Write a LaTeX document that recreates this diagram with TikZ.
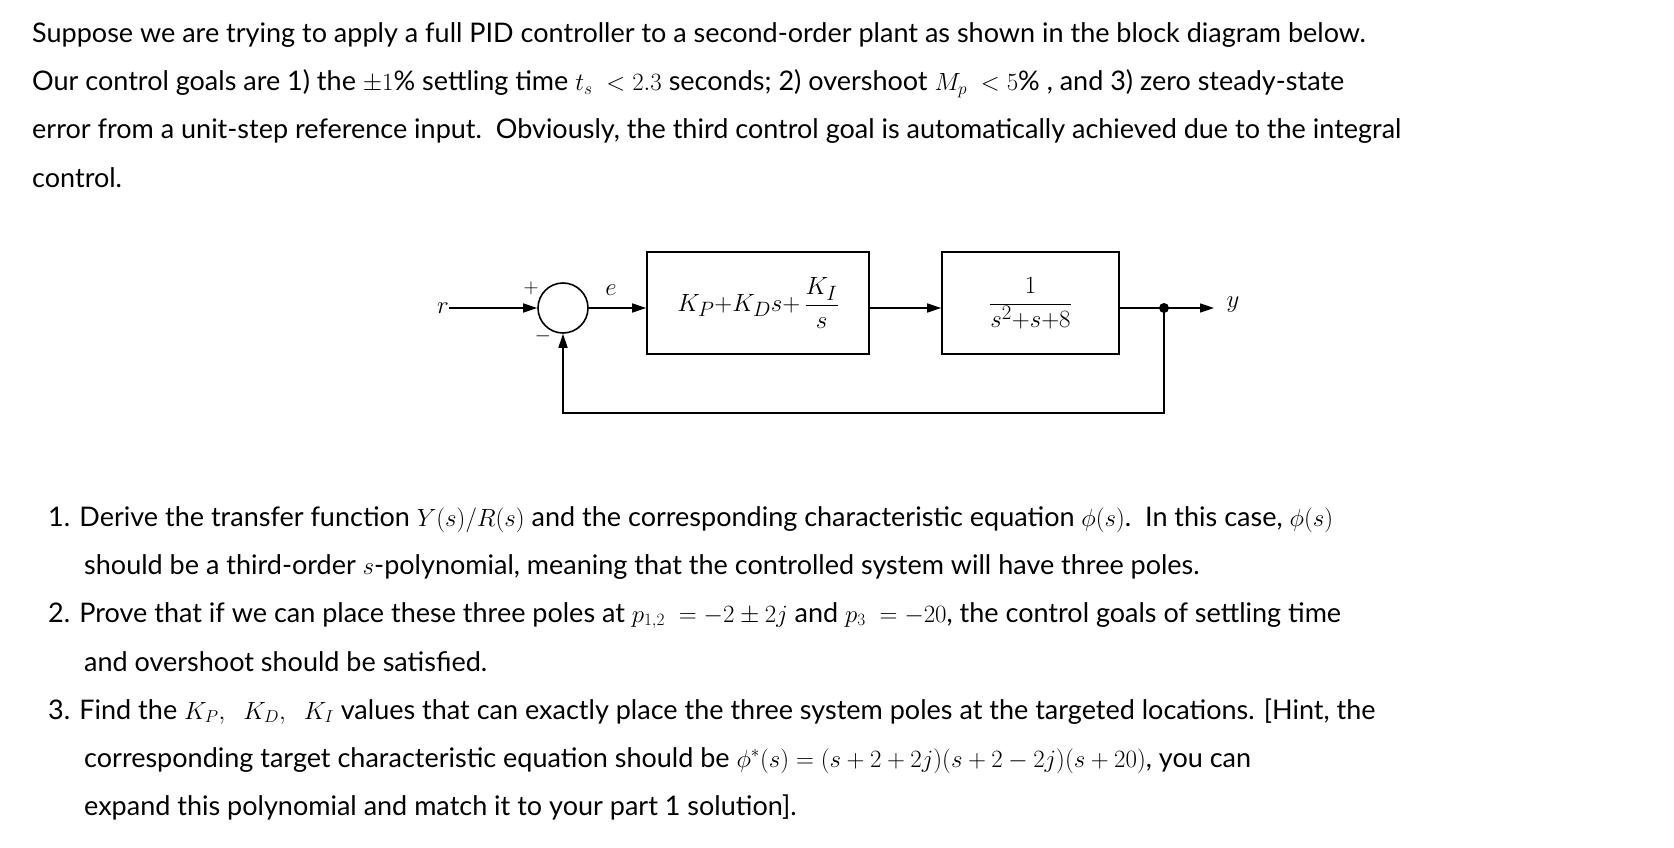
\documentclass[tikz,border=0pt]{standalone}
\usepackage{fontspec}
\setmainfont{Lato}
\usetikzlibrary{arrows.meta}
\begin{document}
\begin{tikzpicture}[x=1pt,y=-1pt,
  txt/.style={anchor=base west,inner sep=0pt,font=\fontsize{27}{32}\selectfont},
  blk/.style={draw,line width=1.6pt,inner sep=0pt},
  sig/.style={line width=1.6pt,-{Triangle[length=14pt,width=9pt]}},
  dlab/.style={font=\fontsize{27}{30}\selectfont\itshape,inner sep=0pt}]
\useasboundingbox (0,0) rectangle (1674,848);
\node[txt] (l1) at (32,43) {Suppose we are trying to apply a full PID controller to a second-order plant as shown in the block diagram below.};
\node[txt] (l2) at (32,91) {Our control goals are 1) the $\pm1\%$ settling time $t_s\ <2.3$ seconds; 2) overshoot $M_p\ <5\%$ , and 3) zero steady-state};
\node[txt] (l3) at (32,139) {error from a unit-step reference input.\ \ Obviously, the third control goal is automatically achieved due to the integral};
\node[txt] (l4) at (32,188) {control.};
% diagram
\node[draw,circle,line width=1.6pt,minimum size=50pt,inner sep=0pt] (sum) at (563,308) {};
\node[blk,minimum width=222pt,minimum height=102pt] (c) at (758,303) {};
\node[font=\fontsize{30}{32}\selectfont] (ct) at (758,303) {$\displaystyle K_P{+}K_Ds{+}\,\frac{K_I}{s}$};
\node[blk,minimum width=177pt,minimum height=102pt] (g) at (1030.5,303) {};
\node[font=\fontsize{30}{32}\selectfont] (gt) at (1030.5,303) {$\displaystyle\frac{1}{s^2{+}s{+}8}$};
\node[dlab] (r) at (443,308) {$r$};
\node[dlab] (y) at (1233,305) {$y$};
\node[dlab] (e) at (611,290) {$e$};
\node[font=\fontsize{22}{24}\selectfont] (pl) at (531,288) {$+$};
\node[font=\fontsize{22}{24}\selectfont] (mi) at (543,336) {$-$};
\coordinate (dot) at (1164,308);
\coordinate (fb) at (1164,413);
\coordinate (fb2) at (563,413);
\draw[sig] (r) -- (sum);
\draw[sig] (sum) -- (sum -| c.west);
\draw[sig] (sum -| c.east) -- (sum -| g.west);
\draw[sig] (sum -| g.east) -- (1214,308) coordinate (yend);
\fill (dot) circle (5pt);
\draw[sig] (dot) -- (fb) -- (fb2) -- (sum);
% list
\node[txt] (i1) at (48,526) {1. Derive the transfer function $Y(s)/R(s)$ and the corresponding characteristic equation $\phi(s)$.\ \ In this case, $\phi(s)$};
\node[txt] (i1b) at (84,574) {should be a third-order $s$-polynomial, meaning that the controlled system will have three poles.};
\node[txt] (i2) at (48,622) {2. Prove that if we can place these three poles at $p_{1,2}\ =-2\pm2j$ and $p_3\ =-20$, the control goals of settling time};
\node[txt] (i2b) at (84,671) {and overshoot should be satisfied.};
\node[txt] (i3) at (48,719) {3. Find the $K_P,\ \ K_D,\ \ K_I$ values that can exactly place the three system poles at the targeted locations. [Hint, the};
\node[txt] (i3b) at (84,767) {corresponding target characteristic equation should be $\phi^*(s)=(s+2+2j)(s+2-2j)(s+20)$, you can};
\node[txt] (i3c) at (84,815) {expand this polynomial and match it to your part 1 solution].};
\end{tikzpicture}
\end{document}
